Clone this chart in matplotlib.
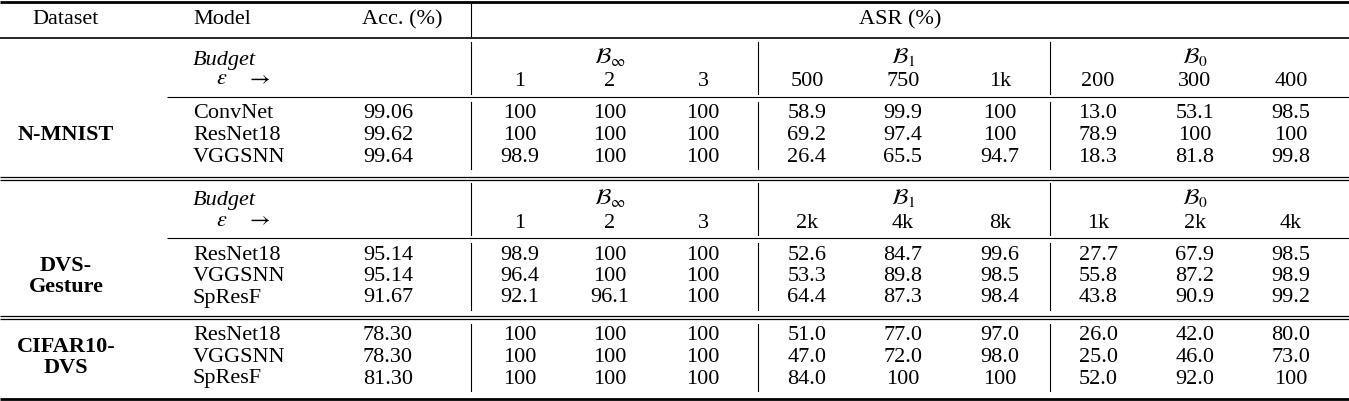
import matplotlib
matplotlib.use("Agg")
import matplotlib.pyplot as plt

plt.rcParams['font.family'] = ['Liberation Serif', 'DejaVu Serif']
plt.rcParams['mathtext.fontset'] = 'stix'

datasets = ["N-MNIST", "DVS-\nGesture", "CIFAR10-\nDVS"]
models = [["ConvNet", "ResNet18", "VGGSNN"],
          ["ResNet18", "VGGSNN", "SpResF"],
          ["ResNet18", "VGGSNN", "SpResF"]]
acc = [["99.06", "99.62", "99.64"],
       ["95.14", "95.14", "91.67"],
       ["78.30", "78.30", "81.30"]]
budgets = [["1", "2", "3", "500", "750", "1k", "200", "300", "400"],
           ["1", "2", "3", "2k", "4k", "8k", "1k", "2k", "4k"],
           None]
asr = [
    [["100", "100", "100", "58.9", "99.9", "100", "13.0", "53.1", "98.5"],
     ["100", "100", "100", "69.2", "97.4", "100", "78.9", "100", "100"],
     ["98.9", "100", "100", "26.4", "65.5", "94.7", "18.3", "81.8", "99.8"]],
    [["98.9", "100", "100", "52.6", "84.7", "99.6", "27.7", "67.9", "98.5"],
     ["96.4", "100", "100", "53.3", "89.8", "98.5", "55.8", "87.2", "98.9"],
     ["92.1", "96.1", "100", "64.4", "87.3", "98.4", "43.8", "90.9", "99.2"]],
    [["100", "100", "100", "51.0", "77.0", "97.0", "26.0", "42.0", "80.0"],
     ["100", "100", "100", "47.0", "72.0", "98.0", "25.0", "46.0", "73.0"],
     ["100", "100", "100", "84.0", "100", "100", "52.0", "92.0", "100"]],
]
groups = [r"$\mathcal{B}_{\infty}$", r"$\mathcal{B}_{1}$", r"$\mathcal{B}_{0}$"]

W, H = 1349, 401
fig = plt.figure(figsize=(W/100, H/100), dpi=100)
ax = fig.add_axes([0, 0, 1, 1])
ax.set_xlim(0, W); ax.set_ylim(H, 0); ax.axis('off')

fs = 16
colx = [520, 610, 703, 807, 903, 1000, 1098, 1195, 1291]
vlx = [471, 758, 1050]

def hl(y, x0=0, x1=W, lw=1.0):
    ax.plot([x0, x1], [y, y], color='black', lw=lw, solid_capstyle='butt')

def vl(x, y0, y1):
    ax.plot([x, x], [y0, y1], color='black', lw=0.8)

# header
hl(1.5, lw=2.0)
ax.text(66, 20, "Dataset", fontsize=fs, ha='center', va='center')
ax.text(193, 20, "Model", fontsize=fs, ha='left', va='center')
ax.text(402, 20, "Acc. (%)", fontsize=fs, ha='center', va='center')
ax.text(900, 20, "ASR (%)", fontsize=fs, ha='center', va='center')
vl(vlx[0], 4, 36)
hl(38, lw=1.2)

sec_top = [38, 179, 318]
for s in range(3):
    top = sec_top[s]
    if budgets[s] is not None:
        yb, ye, thin = top + 22, top + 44, top + 59
        ax.text(193, yb, "Budget", fontsize=fs, style='italic', ha='left', va='center')
        ax.text(222, ye - 2, r"$\varepsilon$", fontsize=fs, ha='center', va='center')
        ax.text(258, ye - 2, r"$\rightarrow$", fontsize=fs, ha='center', va='center')
        for g in range(3):
            ax.text(colx[3*g+1], yb - 3, groups[g], fontsize=fs, ha='center', va='center')
        for j, b in enumerate(budgets[s]):
            ax.text(colx[j], ye, b, fontsize=fs, ha='center', va='center')
        for x in vlx:
            vl(x, top + 4, thin - 3)
        hl(thin, x0=167, lw=0.8)
        r0 = thin + 17
    else:
        r0 = top + 18
    rows_y = [r0 + 21.5*i for i in range(3)]
    for i in range(3):
        y = rows_y[i]
        ax.text(193, y, models[s][i], fontsize=fs, ha='left', va='center')
        ax.text(413, y, acc[s][i], fontsize=fs, ha='right', va='center')
        for j, v in enumerate(asr[s][i]):
            ax.text(colx[j], y, v, fontsize=fs, ha='center', va='center')
    for x in vlx:
        vl(x, rows_y[0] - 12, rows_y[2] + 12)
    ax.text(66, rows_y[1], datasets[s], fontsize=fs, weight='bold',
            ha='center', va='center', linespacing=1.1)
    if s < 2:
        nxt = sec_top[s+1]
        hl(nxt - 1.8, lw=0.9)
        hl(nxt + 1.2, lw=0.9)
hl(398.5, lw=2.0)

fig.savefig("out.png", dpi=100)
